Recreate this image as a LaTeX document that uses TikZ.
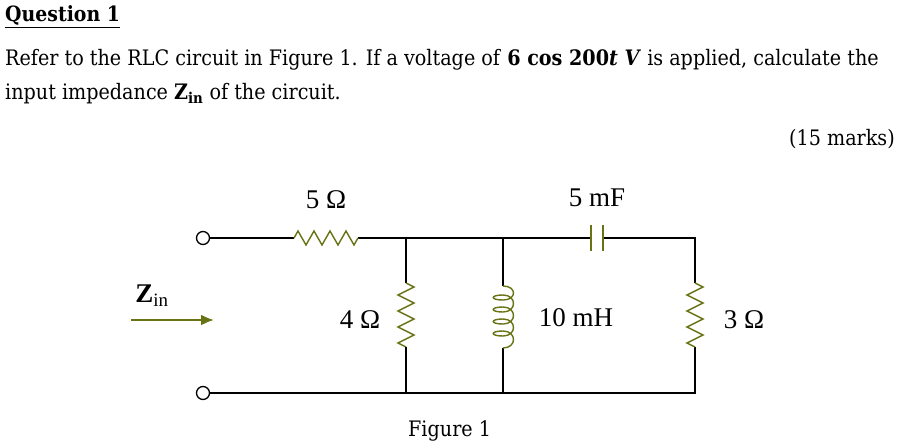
\documentclass[tikz,border=0pt]{standalone}
\usepackage{fontspec}
\setmainfont{Liberation Serif}
\newfontfamily\qfont{DejaVu Serif Condensed}
\usetikzlibrary{arrows.meta}
\definecolor{compgreen}{RGB}{105,115,20}
\tikzset{
  wire/.style={line width=1.3pt,black},
  part/.style={line width=1.4pt,draw=compgreen},
  lbl/.style={font=\fontsize{27}{27}\selectfont,inner sep=0pt},
  txt/.style={font=\qfont\fontsize{21.3}{21.3}\selectfont,inner sep=0pt,anchor=base west},
  term/.style={circle,draw,line width=1.3pt,fill=white,minimum size=13pt,inner sep=0pt}
}
\newcommand{\zigH}[2]{%
 \draw[part] (#1,#2) -- ++(4,-7) -- ++(8,14) -- ++(8,-14) -- ++(8,14) -- ++(8,-14) -- ++(8,14) -- ++(8,-14) -- ++(8,14) -- ++(4,-7);}
\newcommand{\zigV}[2]{%
 \draw[part] (#1,#2) -- ++(8,4) -- ++(-16,8) -- ++(16,8) -- ++(-16,8) -- ++(16,8) -- ++(-16,8) -- ++(16,8) -- ++(-16,8) -- ++(8,4);}
\begin{document}
\begin{tikzpicture}[x=1pt,y=-1pt]
\useasboundingbox[fill=white] (0,0) rectangle (899,444);
% text
\node[txt,font=\qfont\bfseries\fontsize{21}{21}\selectfont] (q) at (5,22) {\underline{Question 1}};
\node[txt] (l1) at (5,66) {Refer to the RLC circuit in Figure 1. If a voltage of \textbf{6 cos 200\textit{t V}} is applied, calculate the};
\node[txt] (l2) at (5,99) {input impedance \textbf{Z\textsubscript{in}} of the circuit.};
\node[txt,anchor=base east] (mk) at (895,145) {(15 marks)};
\node[txt] (fig) at (408,436) {Figure 1};
% terminals
\coordinate (T1) at (203,238);
\coordinate (B1) at (203,393);
\coordinate (J1) at (406,238);
\coordinate (J2) at (503,238);
\coordinate (J3) at (695,238);
\coordinate (K1) at (406,393);
\coordinate (K2) at (503,393);
\coordinate (K3) at (695,393);
% top wire
\draw[wire] (T1) -- (294,238);
\draw[wire] (358,238) -- (J1) -- (J2) -- (591,238);
\draw[wire] (603,238) -- (J3) -- (695,283);
\zigH{294}{238}
% capacitor
\draw[part] (591,225) -- (591,251);
\draw[part] (603,225) -- (603,251);
% bottom wire
\draw[wire] (B1) -- (K1) -- (K2) -- (K3) -- (695,347);
% 4 ohm
\draw[wire] (J1) -- (406,283);
\zigV{406}{283}
\draw[wire] (406,347) -- (K1);
% 3 ohm
\zigV{695}{283}
% inductor
\draw[wire] (J2) -- (503,286);
\draw[wire] (503,348) -- (K2);
\draw[part] (503,286) .. controls (517,286) and (517,300) .. (503,300)
 .. controls (490,300) and (490,295) .. (503,295)
 .. controls (517,295) and (517,312) .. (503,312)
 .. controls (490,312) and (490,307) .. (503,307)
 .. controls (517,307) and (517,324) .. (503,324)
 .. controls (490,324) and (490,319) .. (503,319)
 .. controls (517,319) and (517,336) .. (503,336)
 .. controls (490,336) and (490,331) .. (503,331)
 .. controls (517,331) and (517,348) .. (503,348);
\node[term] (a) at (T1) {};
\node[term] (b) at (B1) {};
% arrow
\coordinate (A0) at (131,320);
\coordinate (A1) at (214,320);
\draw[draw=compgreen,line width=2.2pt,-{Latex[length=13pt,width=11pt]}] (A0) -- (A1);
\node[lbl] (z) at (152,296) {\textbf{Z}\textsubscript{in}};
\node[lbl] (r5) at (326,200) {5 Ω};
\node[lbl] (c5) at (597,198) {5 mF};
\node[lbl] (r4) at (360,320) {4 Ω};
\node[lbl] (l10) at (576,318) {10 mH};
\node[lbl] (r3) at (744,320) {3 Ω};
\end{tikzpicture}
\end{document}
